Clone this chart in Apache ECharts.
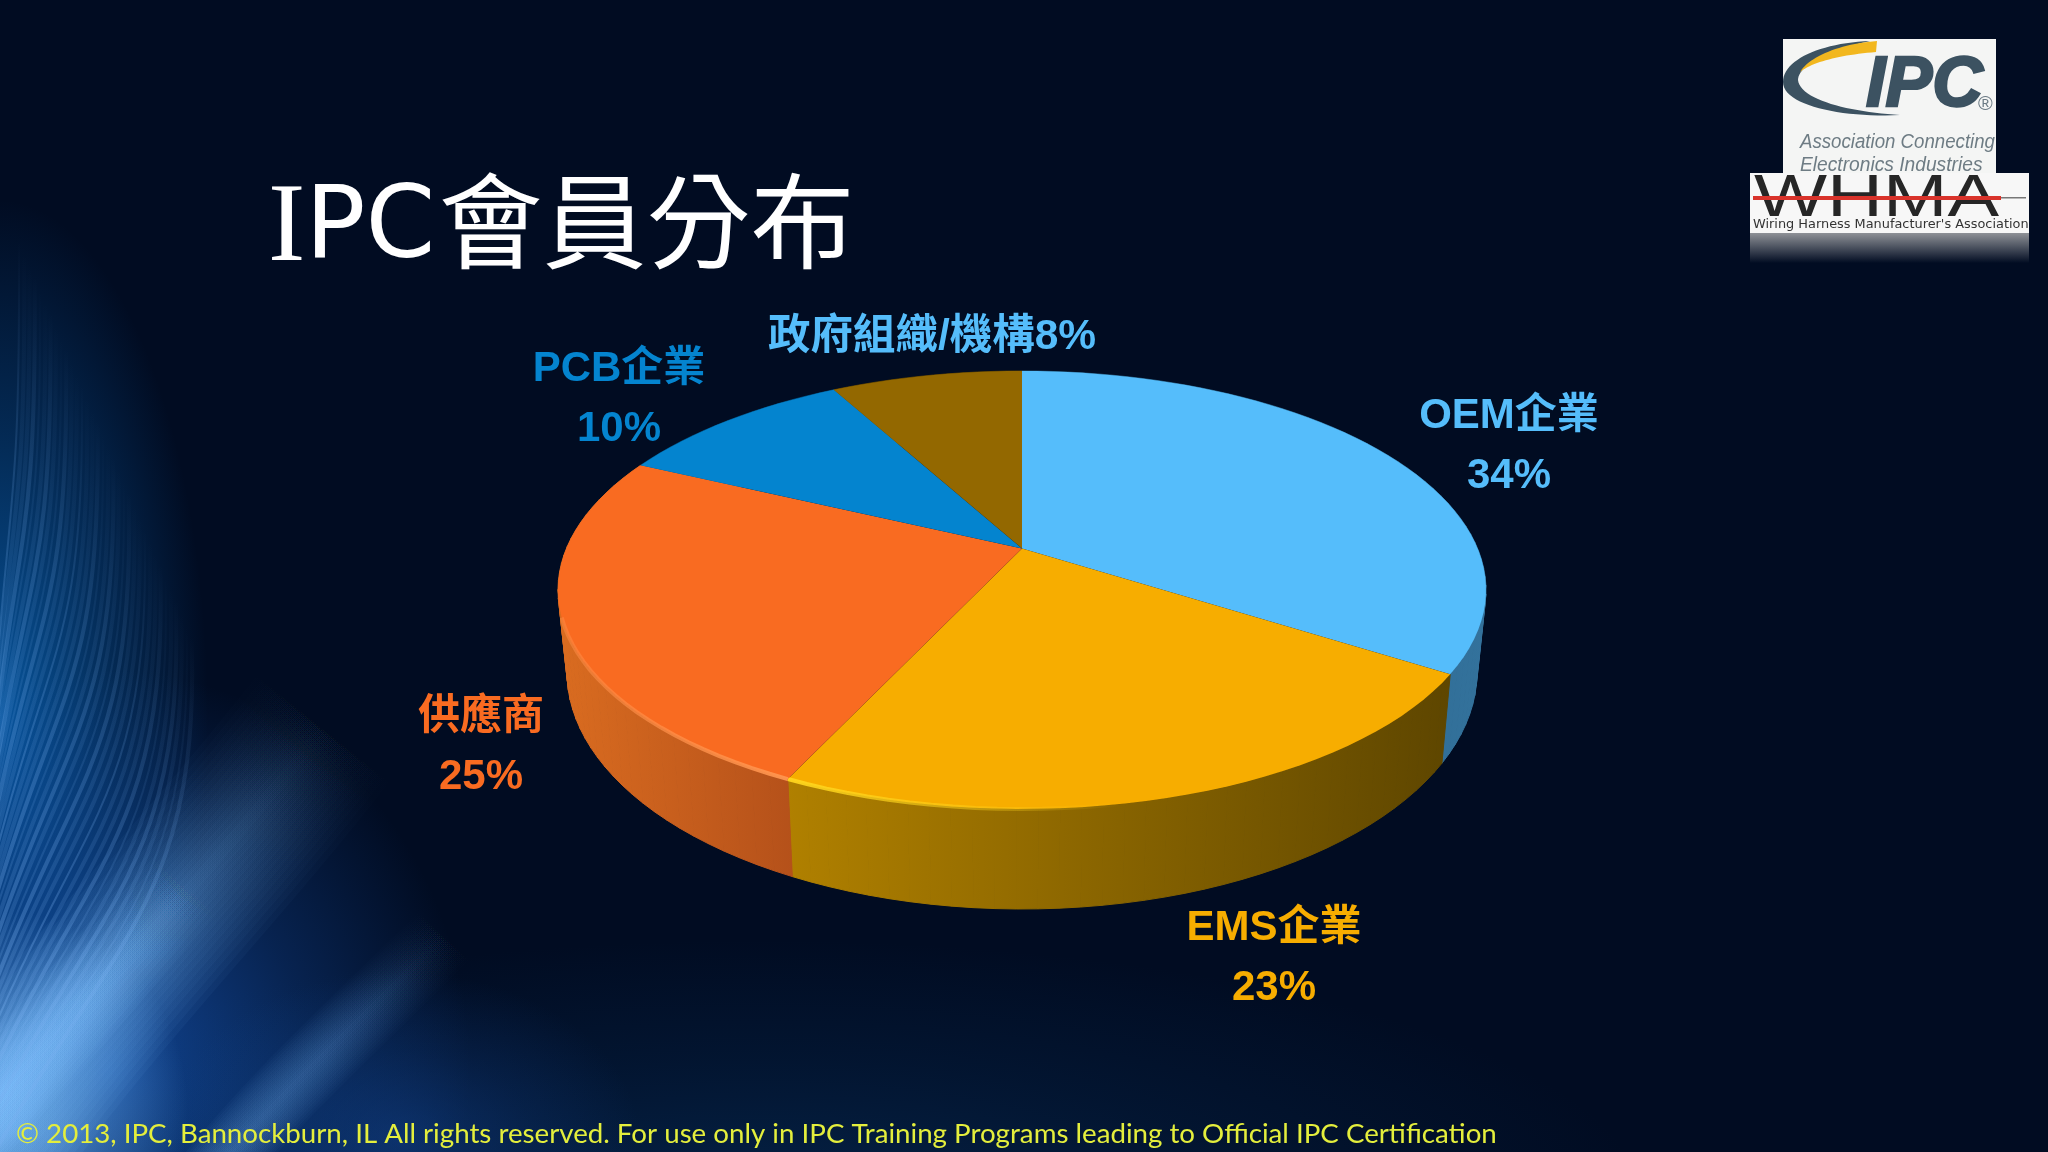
<!DOCTYPE html>
<html>
<head>
<meta charset="utf-8">
<style>
  html, body { margin: 0; padding: 0; background: #010c22; }
  #chart-container { width: 2048px; height: 1152px; }
</style>
<script src="https://cdn.jsdelivr.net/npm/echarts@6/dist/echarts.min.js"></script>
</head>
<body>
<div id="chart-container"></div>
<script>
var categories = ["OEM企業", "EMS企業", "供應商", "PCB企業", "政府組織/機構"];
var shares = [34, 23, 25, 10, 8];

var topColors = ["#55bdfb", "#f7ad00", "#f96b21", "#0484cf", "#936800"];
var wallColors = [
  ["#24597c", "#33729c"],
  ["#b08000", "#5e4600"],
  ["#da6c20", "#b5511a"],
  ["#024a78", "#024a78"],
  ["#5a4000", "#5a4000"],
];

var dom = document.getElementById("chart-container");
var myChart = echarts.init(dom, null, { renderer: "canvas" });

var total = shares.reduce(function (a, b) { return a + b; }, 0);
var cum = [0];
shares.forEach(function (v, i) { cum.push(cum[i] + v); });

// the pie is tilted in perspective, so the apex sits above the middle of the rim
var cx = 1022;
var tilt = -0.19;
var topRim = { y: 590, rx: 464, ry: 219 };
var botRim = { y: 672, rx: 455, ry: 237 };

function project(theta, rim, r) {
  var u = Math.sin(theta) * r;
  var v = -Math.cos(theta) * r;
  var d = 1 + tilt * v;
  return [
    cx + (rim.rx * u * Math.sqrt(1 - tilt * tilt)) / d,
    rim.y + (rim.ry * (v + tilt)) / d,
  ];
}

function arcPoints(a, b, rim) {
  var pts = [];
  var n = Math.max(8, Math.round(((b - a) / Math.PI) * 80));
  for (var i = 0; i <= n; i++) {
    pts.push(project(a + ((b - a) * i) / n, rim, 1));
  }
  return pts;
}

function sliceAngles(i) {
  return [(cum[i] / total) * 2 * Math.PI, (cum[i + 1] / total) * 2 * Math.PI];
}

// the wall is a strip of quads so its outline stays tangent to both rims
function renderWall(params) {
  var i = params.dataIndex;
  var ang = sliceAngles(i);
  var up = arcPoints(ang[0], ang[1], topRim);
  var down = arcPoints(ang[0], ang[1], botRim);
  var xs = up.concat(down).map(function (p) { return p[0]; });
  var fill = new echarts.graphic.LinearGradient(
    Math.min.apply(null, xs), 0, Math.max.apply(null, xs), 0,
    [
      { offset: 0, color: wallColors[i][0] },
      { offset: 1, color: wallColors[i][1] },
    ],
    true
  );
  var children = [];
  for (var j = 0; j < up.length - 1; j++) {
    children.push({
      type: "polygon",
      shape: { points: [up[j], up[j + 1], down[j + 1], down[j]] },
      style: { fill: fill, stroke: fill, lineWidth: 1 },
    });
  }
  return { type: "group", children: children };
}

function fadeStroke(x0, x1, c0, c1) {
  return new echarts.graphic.LinearGradient(x0, 0, x1, 0, [
    { offset: 0, color: c0 },
    { offset: 1, color: c1 },
  ], true);
}

function renderTop(params) {
  var i = params.dataIndex;
  var ang = sliceAngles(i);
  var pts = [project(0, topRim, 0)].concat(arcPoints(ang[0], ang[1], topRim));
  var children = [
    { type: "polygon", shape: { points: pts }, style: { fill: topColors[i] } },
  ];
  // light edge along the front of the rim
  if (i === 1) {
    children.push({
      type: "polyline",
      shape: { points: arcPoints(Math.PI * 0.85, ang[1], topRim) },
      style: { fill: "none", lineWidth: 4, stroke: fadeStroke(790, 1120, "rgba(255,214,30,0.95)", "rgba(255,214,30,0)") },
    });
  }
  if (i === 2) {
    children.push({
      type: "polyline",
      shape: { points: arcPoints(ang[0], Math.PI * 1.4, topRim) },
      style: { fill: "none", lineWidth: 4, stroke: fadeStroke(560, 790, "rgba(255,140,70,0.5)", "rgba(255,150,80,0.95)") },
    });
  }
  return { type: "group", children: children };
}

var sliceData = shares.map(function (v, i) {
  return { name: categories[i], value: v };
});

// background: dark navy with blue light streaks at the lower left
var bg = [];
function addGlow(x, y, r, sx, sy, color, alpha) {
  bg.push({
    type: "circle",
    x: x, y: y, scaleX: sx, scaleY: sy, z: -9,
    silent: true,
    shape: { cx: 0, cy: 0, r: r },
    style: {
      fill: new echarts.graphic.RadialGradient(0.5, 0.5, 0.5, [
        { offset: 0, color: "rgba(" + color + "," + alpha + ")" },
        { offset: 0.55, color: "rgba(" + color + "," + alpha * 0.4 + ")" },
        { offset: 1, color: "rgba(" + color + ",0)" },
      ]),
    },
  });
}
bg.push({
  type: "rect", z: -10, silent: true,
  shape: { x: 0, y: 0, width: 2048, height: 1152 },
  style: { fill: "#010c22" },
});
addGlow(0, 720, 520, 0.4, 1, "8,90,165", 0.95);
addGlow(110, 1070, 400, 0.9, 1, "20,80,170", 0.85);
addGlow(760, 1200, 520, 1.7, 0.5, "8,55,105", 0.5);
addGlow(400, 1140, 240, 1, 0.7, "20,70,150", 0.5);

function addStreak(x0, y0, c1x, c1y, c2x, c2y, x1, y1, width, rgb, alpha) {
  bg.push({
    type: "bezierCurve", z: -8, silent: true,
    shape: { x1: x0, y1: y0, cpx1: c1x, cpy1: c1y, cpx2: c2x, cpy2: c2y, x2: x1, y2: y1 },
    style: {
      fill: "none",
      lineWidth: width,
      stroke: new echarts.graphic.LinearGradient(x0, y0, x1, y1, [
        { offset: 0, color: "rgba(" + rgb + "," + alpha + ")" },
        { offset: 0.5, color: "rgba(" + rgb + "," + alpha * 0.6 + ")" },
        { offset: 1, color: "rgba(" + rgb + ",0)" },
      ], true),
    },
  });
}
// soft wide band: stacked strokes of shrinking width
function addBand(x0, y0, c1x, c1y, c2x, c2y, x1, y1, width, rgb, alpha) {
  for (var w = width; w > 4; w -= width / 14) {
    addStreak(x0, y0, c1x, c1y, c2x, c2y, x1, y1, w, rgb, alpha / 8);
  }
}
addBand(-40, 1180, 70, 1010, 190, 900, 330, 720, 170, "110,175,235", 0.7);
addBand(-30, 1130, 30, 1060, 90, 990, 190, 880, 90, "125,190,255", 0.7);
addBand(200, 1190, 280, 1090, 350, 1030, 450, 930, 70, "80,135,195", 0.5);
for (var k = 0; k < 34; k++) {
  var y0 = 690 + k * 14;
  var topX = 20 + k * 5.5;
  var endY = 240 + k * 12;
  var a = (k % 3 === 0 ? 0.28 : 0.14) + k * 0.003;
  addStreak(-5, y0, topX * 0.55, y0 - 210, topX, endY + 260, topX * 0.95, endY, k % 4 === 0 ? 2 : 4, "120,175,240", a);
}
addGlow(8, 1110, 180, 1, 1.1, "120,190,255", 0.8);

// points along a cubic, used for the logo swoosh outline
function curve(p0, p1, p2, p3) {
  var out = [];
  for (var i = 0; i <= 24; i++) {
    var t = i / 24, s = 1 - t;
    out.push([
      s * s * s * p0[0] + 3 * s * s * t * p1[0] + 3 * s * t * t * p2[0] + t * t * t * p3[0],
      s * s * s * p0[1] + 3 * s * s * t * p1[1] + 3 * s * t * t * p2[1] + t * t * t * p3[1],
    ]);
  }
  return out;
}
var swoosh = curve([1870, 41], [1820, 43], [1783, 60], [1783, 82])
  .concat(curve([1783, 82], [1783, 105], [1840, 118], [1900, 115]))
  .concat(curve([1900, 115], [1850, 112], [1800, 100], [1798, 80]))
  .concat(curve([1798, 80], [1798, 65], [1830, 50], [1870, 41]));
var swooshGold = [[1877, 41]]
  .concat(curve([1876, 52], [1840, 55], [1812, 62], [1800, 72]))
  .concat(curve([1800, 72], [1810, 56], [1840, 44], [1877, 41]));

// logos in the top right corner
var logos = [
  { type: "rect", shape: { x: 1783, y: 39, width: 213, height: 134 }, style: { fill: "#f4f5f4" } },
  { type: "polygon", shape: { points: swoosh }, style: { fill: "#3c5261" } },
  { type: "polygon", shape: { points: swooshGold }, style: { fill: "#f2b71e" } },
  { type: "text", style: { text: "IPC", x: 1866, y: 52, fill: "#3c5261", stroke: "#3c5261", lineWidth: 2.5, font: "italic bold 70px 'Liberation Sans'" } },
  { type: "text", style: { text: "®", x: 1978, y: 94, fill: "#6b7a84", font: "20px 'Liberation Sans'" } },
  { type: "text", x: 1800, y: 132, scaleX: 0.91, style: { text: "Association Connecting", x: 0, y: 0, fill: "#6e7c84", font: "italic 20.5px 'Liberation Sans'" } },
  { type: "text", x: 1800, y: 155, scaleX: 0.96, style: { text: "Electronics Industries", x: 0, y: 0, fill: "#6e7c84", font: "italic 20px 'Liberation Sans'" } },
  { type: "rect", shape: { x: 1750, y: 173, width: 279, height: 60 }, style: { fill: "#f7f7f7" } },
  { type: "text", x: 1754, y: 169, scaleX: 1.29, style: { text: "WHMA", x: 0, y: 0, fill: "#262626", font: "60px 'Liberation Sans'" } },
  { type: "rect", shape: { x: 1753, y: 196, width: 248, height: 4 }, style: { fill: "#d9332b" } },
  { type: "rect", shape: { x: 2001, y: 197, width: 25, height: 1.5 }, style: { fill: "#777" } },
  { type: "text", x: 1753, y: 219, scaleX: 1.12, style: { text: "Wiring Harness Manufacturer's Association", x: 0, y: 0, fill: "#333", font: "11.5px 'DejaVu Sans'" } },
  { type: "rect", shape: { x: 1750, y: 233, width: 279, height: 30 }, style: { fill: new echarts.graphic.LinearGradient(0, 0, 0, 1, [
    { offset: 0, color: "rgba(190,190,190,0.75)" },
    { offset: 1, color: "rgba(190,190,190,0)" },
  ]) } },
];
logos.forEach(function (el) { el.z = 5; el.silent = true; });

// slice labels
var cjkFont = "'Liberation Sans','Noto Sans CJK TC'";
function sliceLabel(i, x, y) {
  return {
    type: "text", z: 10, silent: true,
    style: {
      text: categories[i] + "\n" + shares[i] + "%",
      x: x, y: y, fill: topColors[i],
      font: "bold 42px " + cjkFont,
      lineHeight: 60, align: "center", verticalAlign: "middle",
    },
  };
}
var labels = [
  sliceLabel(0, 1509, 446),
  sliceLabel(1, 1274, 958),
  sliceLabel(2, 481, 747),
  sliceLabel(3, 619, 399),
  {
    type: "text", z: 10, silent: true,
    style: {
      text: categories[4] + shares[4] + "%",
      x: 932, y: 337, fill: topColors[0],
      font: "bold 42.5px " + cjkFont, align: "center", verticalAlign: "middle",
    },
  },
];

var titleText = {
  type: "text", z: 10, silent: true,
  style: {
    text: "{a|I}{b|PC}{c|會員分布}",
    x: 268, y: 231, verticalAlign: "middle", fill: "#fff",
    rich: {
      a: { fontFamily: "Liberation Serif", fontSize: 112, fill: "#fff" },
      b: { fontFamily: "DejaVu Sans", fontSize: 100, fill: "#fff" },
      c: { fontFamily: "Noto Sans CJK TC", fontSize: 104, fill: "#fff", padding: [0, 0, 20, 3] },
    },
  },
};

var footer = {
  type: "text", z: 10, silent: true,
  style: {
    text: "© 2013, IPC, Bannockburn, IL All rights reserved. For use only in IPC Training Programs leading to Official IPC Certification",
    x: 16, y: 1134, fill: "#e4ee3c",
    font: "27.7px Lato", verticalAlign: "middle",
  },
};

var option = {
  animation: false,
  backgroundColor: "#010c22",
  graphic: { elements: bg.concat(logos, labels, [titleText, footer]) },
  tooltip: { show: false },
  series: [
    { type: "custom", coordinateSystem: "none", silent: true, z: 2, renderItem: renderWall, data: sliceData },
    { type: "custom", coordinateSystem: "none", silent: true, z: 3, renderItem: renderTop, data: sliceData },
  ],
};

myChart.setOption(option);

window.addEventListener("resize", function () {
  myChart.resize();
});
</script>
</body>
</html>
